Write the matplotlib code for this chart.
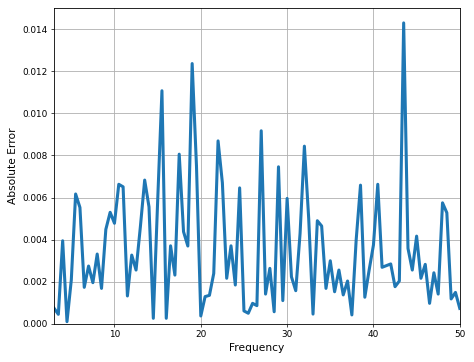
import numpy as np
import matplotlib
matplotlib.use('Agg')
import matplotlib.pyplot as plt

# Frequencies 3..50 in steps of 0.5
frequency = np.arange(3, 50.5, 0.5)

# Absolute error
abs_error = [
    0.00075, 0.00046, 0.00395, 0.00011, 0.00209, 0.00617, 0.00553, 0.00174,
    0.00275, 0.00196, 0.00332, 0.00169, 0.00449, 0.00530, 0.00478, 0.00663,
    0.00651, 0.00133, 0.00327, 0.00256, 0.00461, 0.00683, 0.00556, 0.00027,
    0.00580, 0.01107, 0.00027, 0.00371, 0.00232, 0.00806, 0.00438, 0.00370,
    0.01236, 0.00750, 0.00038, 0.00130, 0.00136, 0.00240, 0.00869, 0.00670,
    0.00217, 0.00371, 0.00185, 0.00646, 0.00062, 0.00051, 0.00098, 0.00087,
    0.00917, 0.00142, 0.00264, 0.00058, 0.00746, 0.00111, 0.00596, 0.00224,
    0.00158, 0.00430, 0.00844, 0.00500, 0.00047, 0.00490, 0.00465, 0.00169,
    0.00300, 0.00153, 0.00256, 0.00138, 0.00204, 0.00043, 0.00400, 0.00659,
    0.00127, 0.00256, 0.00375, 0.00663, 0.00269, 0.00277, 0.00285, 0.00177,
    0.00204, 0.01429, 0.00359, 0.00256, 0.00417, 0.00217, 0.00283, 0.00098,
    0.00243, 0.00142, 0.00575, 0.00528, 0.00119, 0.00150, 0.00074,
]

fig = plt.figure(figsize=(4.74, 3.62), dpi=100)
ax = fig.add_axes([0.114, 0.105, 0.856, 0.873])
ax.plot(frequency, abs_error, color='#1f77b4', linewidth=2.2)
ax.set_xlim(3, 50)
ax.set_ylim(bottom=0)
ax.set_xlabel('Frequency', fontsize=7.7, labelpad=2.5)
ax.set_ylabel('Absolute Error', fontsize=7.7, labelpad=3)
ax.tick_params(labelsize=6.4, length=2.2, width=0.5, pad=2.2)
for s in ax.spines.values():
    s.set_linewidth(0.6)
ax.grid(True, linewidth=0.6)

fig.savefig('out.png', dpi=100)
